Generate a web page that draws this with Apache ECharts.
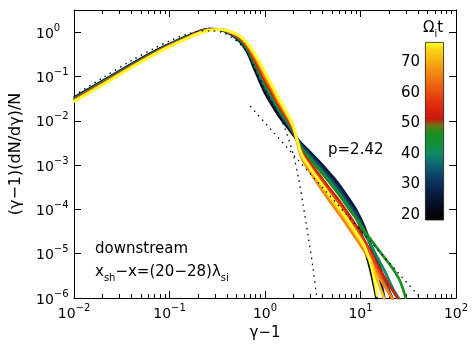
<!DOCTYPE html>
<html><head><meta charset="utf-8">
<script src="https://cdn.jsdelivr.net/npm/echarts@6/dist/echarts.min.js"></script>
<style>html,body{margin:0;padding:0;background:#fff}#c{width:474px;height:356px}</style>
</head><body><div id="c"></div>
<script>
// ---------------- DATA ----------------
// x: gamma - 1
const gammaMinus1 = [0.01,0.02,0.04,0.07,0.1,0.15,0.2,0.26,0.35,0.45,0.55,0.65,0.8,1.0,1.2,1.4,1.6,1.8,2.0,2.4,3,4,5,6,7.5,9,11,13,15,18,22,26,30];
// times (Omega_i t) of the spectra
const times = [20,27,34,41,47,53,60,66,72,77];
// log10 of (gamma-1)(dN/dgamma)/N for each time, on the gammaMinus1 grid
const logF_t20 = [-1.48,-1.10,-0.72,-0.43,-0.27,-0.10,0.01,0.07,0.05,-0.06,-0.22,-0.44,-0.90,-1.37,-1.66,-1.89,-2.06,-2.20,-2.33,-2.55,-2.77,-3.07,-3.32,-3.53,-3.83,-4.09,-4.85,-5.45,-6.10];
const logF_t27 = [-1.49,-1.11,-0.73,-0.44,-0.28,-0.11,0.00,0.07,0.05,-0.05,-0.20,-0.42,-0.85,-1.31,-1.61,-1.84,-2.02,-2.17,-2.31,-2.51,-2.72,-3.00,-3.24,-3.45,-3.75,-4.01,-4.40,-4.85,-5.30,-6.05];
const logF_t34 = [-1.50,-1.12,-0.74,-0.45,-0.29,-0.11,0.00,0.06,0.05,-0.05,-0.19,-0.39,-0.81,-1.25,-1.55,-1.79,-1.98,-2.13,-2.29,-2.56,-2.79,-3.09,-3.34,-3.56,-3.86,-4.11,-4.49,-4.85,-5.15,-5.60,-6.05];
const logF_t41 = [-1.51,-1.13,-0.75,-0.46,-0.29,-0.12,-0.01,0.06,0.05,-0.04,-0.17,-0.37,-0.76,-1.20,-1.50,-1.75,-1.93,-2.10,-2.26,-2.60,-2.86,-3.17,-3.43,-3.65,-3.95,-4.21,-4.55,-4.82,-5.08,-5.40,-5.80,-6.05];
const logF_t47 = [-1.52,-1.14,-0.76,-0.46,-0.30,-0.12,-0.01,0.06,0.05,-0.03,-0.16,-0.35,-0.72,-1.15,-1.45,-1.71,-1.90,-2.07,-2.25,-2.63,-2.89,-3.20,-3.46,-3.68,-3.98,-4.20,-4.48,-4.70,-4.88,-5.10,-5.35,-5.62,-6.02];
const logF_t53 = [-1.53,-1.15,-0.77,-0.47,-0.30,-0.13,-0.01,0.05,0.06,-0.03,-0.14,-0.32,-0.68,-1.10,-1.40,-1.66,-1.86,-2.04,-2.23,-2.68,-2.97,-3.32,-3.59,-3.81,-4.11,-4.37,-4.70,-4.98,-5.25,-5.55,-5.85,-6.10];
const logF_t60 = [-1.54,-1.16,-0.78,-0.48,-0.31,-0.14,-0.02,0.05,0.06,-0.02,-0.13,-0.30,-0.63,-1.04,-1.35,-1.62,-1.82,-2.00,-2.20,-2.71,-3.03,-3.39,-3.68,-3.90,-4.20,-4.45,-4.77,-5.05,-5.35,-5.70,-6.05];
const logF_t66 = [-1.55,-1.17,-0.78,-0.49,-0.32,-0.14,-0.02,0.05,0.06,-0.01,-0.11,-0.28,-0.59,-0.99,-1.30,-1.57,-1.78,-1.97,-2.18,-2.81,-3.17,-3.58,-3.88,-4.11,-4.41,-4.66,-4.95,-5.20,-5.45,-5.75,-6.05];
const logF_t72 = [-1.56,-1.18,-0.79,-0.49,-0.32,-0.15,-0.03,0.04,0.06,-0.01,-0.10,-0.26,-0.55,-0.94,-1.26,-1.54,-1.75,-1.95,-2.17,-2.77,-3.11,-3.50,-3.79,-4.02,-4.32,-4.57,-4.87,-5.20,-5.60,-6.05];
const logF_t77 = [-1.57,-1.19,-0.80,-0.50,-0.33,-0.15,-0.03,0.04,0.06,0.00,-0.09,-0.24,-0.52,-0.90,-1.22,-1.50,-1.72,-1.92,-2.15,-2.74,-3.07,-3.45,-3.74,-3.96,-4.26,-4.52,-4.83,-5.30,-5.97];
const spectra = [logF_t20,logF_t27,logF_t34,logF_t41,logF_t47,logF_t53,logF_t60,logF_t66,logF_t72,logF_t77];

// Maxwellian fit (dotted)
const maxwellX = [0.01,0.02,0.04,0.07,0.1,0.15,0.2,0.26,0.35,0.45,0.55,0.65,0.8,1.0,1.2,1.4,1.6,1.8,2.0,2.24,2.51,2.82,3.16,3.47,3.55];
const maxwellLogF = [-1.43,-1.03,-0.64,-0.36,-0.20,-0.05,0.02,0.03,0.00,-0.12,-0.27,-0.47,-0.86,-1.30,-1.60,-1.85,-2.15,-2.47,-2.80,-3.28,-3.90,-4.58,-5.28,-5.95,-6.12];
// power-law fit p=2.42 (dotted), end points
const powerX = [0.7, 41];
const powerLogF = [-1.67, -5.96];

// axis ticks (log10 exponents)
const xMajorExp = [-2,-1,0,1,2];
const yMajorExp = [-6,-5,-4,-3,-2,-1,0];
// colour bar
const cbarRange = [18.4, 76.6];
const cbarTicks = [20,30,40,50,60,70];
const cmapValues = [18.4, 23, 28, 32, 36, 40, 43, 47, 49.5, 51.5, 55, 60, 65, 70, 74, 76.6];
const cmapColors = ['#000000','#050d1e','#0a1f48','#0d3a64','#0f5f72','#0f8a68','#0f9040','#1c8e1c','#6f7318','#c8180e','#dc2410','#e84c10','#f07a12','#f6aa12','#f8d414','#ffff30'];

// ---------------- HELPERS ----------------
const FONT = 'DejaVu Sans';
function hex2rgb(h){return [parseInt(h.substr(1,2),16),parseInt(h.substr(3,2),16),parseInt(h.substr(5,2),16)];}
function cmap(v){
  if (v <= cmapValues[0]) return cmapColors[0];
  for (let i=1;i<cmapValues.length;i++){
    if (v <= cmapValues[i]){
      const f=(v-cmapValues[i-1])/(cmapValues[i]-cmapValues[i-1]);
      const a=hex2rgb(cmapColors[i-1]), b=hex2rgb(cmapColors[i]);
      return 'rgb('+a.map((c,k)=>Math.round(c+(b[k]-c)*f)).join(',')+')';
    }
  }
  return cmapColors[cmapColors.length-1];
}
const lg = Math.log10;
const xMinorExp = [];
for (let n=-2;n<2;n++) for (let k=2;k<=9;k++) xMinorExp.push(lg(k*Math.pow(10,n)));
function powLabel(v){const e=Math.round(v);return '{b|10}{s|'+(e<0?'\u2212'+(-e):e)+'}';}
const powRich = {
  b:{fontFamily:FONT,fontSize:14,color:'#000',verticalAlign:'bottom'},
  s:{fontFamily:FONT,fontSize:10,color:'#000',verticalAlign:'bottom',padding:[0,0,8,0]}
};
const axisLineBlack = {show:true,onZero:false,lineStyle:{color:'#000',width:1}};
function xAx(pos, major, labels){
  return {type:'value',gridIndex:0,position:pos,min:-2,max:2,
    axisLine: major ? axisLineBlack : {show:false,onZero:false},
    axisTick:{show:true,inside:true,length:major?7:4,customValues:major?xMajorExp:xMinorExp,lineStyle:{color:'#000',width:1}},
    axisLabel: labels ? {show:true,customValues:xMajorExp,formatter:powLabel,rich:powRich,margin:5} : {show:false},
    splitLine:{show:false}};
}
const cbStops = cmapValues.map((v,i)=>({offset:(v-cbarRange[0])/(cbarRange[1]-cbarRange[0]),color:cmapColors[i]}));
const cbMinor = []; for (let v=19; v<=76; v+=1) cbMinor.push(v);

// ---------------- SERIES ----------------
const series = spectra.map((arr,i)=>({
  type:'line', xAxisIndex:0, yAxisIndex:0, showSymbol:false, smooth:0.3, clip:true,
  lineStyle:{color:cmap(times[i]),width:2.7}, z:2+i,
  data: arr.map((v,j)=>[lg(gammaMinus1[j]), v])
}));
series.push({type:'line',xAxisIndex:0,yAxisIndex:0,showSymbol:false,smooth:0.3,clip:true,z:30,
  lineStyle:{color:'#000',width:1.3,type:[1.5,4.5]},
  data: maxwellX.map((x,j)=>[lg(x),maxwellLogF[j]])});
series.push({type:'line',xAxisIndex:0,yAxisIndex:0,showSymbol:false,clip:true,z:30,
  lineStyle:{color:'#000',width:1.3,type:[1.5,4.5]},
  data: powerX.map((x,j)=>[lg(x),powerLogF[j]])});
series.push({type:'bar',xAxisIndex:4,yAxisIndex:2,barWidth:'100%',clip:true,
  data:[cbarRange[1]],
  itemStyle:{color:new echarts.graphic.LinearGradient(0,1,0,0,cbStops),borderColor:'#222',borderWidth:0.8}});

const option = {
  animation:false,
  backgroundColor:'#fff',
  textStyle:{fontFamily:FONT},
  grid:[{left:71,top:10,right:18,bottom:58,containLabel:false},
        {left:425,top:42,width:19,height:178,containLabel:false}],
  xAxis:[
    Object.assign(xAx('bottom',true,true),{name:'\u03b3\u22121',nameLocation:'middle',nameGap:22,
      nameTextStyle:{fontFamily:FONT,fontSize:15,color:'#000'}}),
    xAx('bottom',false,false),
    xAx('top',true,false),
    xAx('top',false,false),
    {type:'category',gridIndex:1,data:['c'],show:false}
  ],
  yAxis:[
    {type:'value',gridIndex:0,position:'left',min:-6,max:0.5,
     axisLine:axisLineBlack,
     axisTick:{show:true,inside:true,length:7,customValues:yMajorExp,lineStyle:{color:'#000'}},
     axisLabel:{show:true,customValues:yMajorExp,formatter:powLabel,rich:powRich,align:'left',margin:38},
     splitLine:{show:false},
     name:'(\u03b3\u22121)(dN/d\u03b3)/N',nameLocation:'middle',nameGap:50,
     nameTextStyle:{fontFamily:FONT,fontSize:16,color:'#000'}},
    {type:'value',gridIndex:0,position:'right',min:-6,max:0.5,
     axisLine:axisLineBlack,
     axisTick:{show:true,inside:true,length:7,customValues:yMajorExp,lineStyle:{color:'#000'}},
     axisLabel:{show:false},splitLine:{show:false}},
    {type:'value',gridIndex:1,position:'left',min:cbarRange[0],max:cbarRange[1],
     axisLine:{show:false,onZero:false},
     axisTick:{show:true,inside:true,length:2,customValues:cbMinor,lineStyle:{color:'#222',width:0.8}},
     axisLabel:{show:true,customValues:cbarTicks,margin:5,fontFamily:FONT,fontSize:15,color:'#000'},
     splitLine:{show:false}},
    {type:'value',gridIndex:1,position:'right',min:cbarRange[0],max:cbarRange[1],
     axisLine:{show:false,onZero:false},
     axisTick:{show:true,inside:true,length:2,customValues:cbMinor,lineStyle:{color:'#222',width:0.8}},
     axisLabel:{show:false},splitLine:{show:false}}
  ],
  graphic:[
    {type:'text',left:328,top:143,z:50,style:{text:'p=2.42',font:'15px "DejaVu Sans"',fill:'#000'}},
    {type:'text',left:95,top:242,z:50,style:{text:'downstream',font:'15px "DejaVu Sans"',fill:'#000'}},
    {type:'text',left:95,top:265,z:50,style:{
      text:'{a|x}{u|sh}{a|\u2212x=(20\u221228)\u03bb}{u|si}',
      rich:{a:{fontFamily:FONT,fontSize:15,fill:'#000',color:'#000',verticalAlign:'top'},
            u:{fontFamily:FONT,fontSize:10,fill:'#000',color:'#000',verticalAlign:'top',padding:[8,0,0,0]}}}},
    {type:'text',left:423,top:21,z:50,style:{
      text:'{a|\u03a9}{u|i}{a|t}',
      rich:{a:{fontFamily:FONT,fontSize:15,fill:'#000',color:'#000',verticalAlign:'top'},
            u:{fontFamily:FONT,fontSize:10,fill:'#000',color:'#000',verticalAlign:'top',padding:[8,0,0,0]}}}}
  ],
  series:series
};
const chart = echarts.init(document.getElementById('c'),null,{renderer:'canvas'});
chart.setOption(option);
</script>
</body></html>
